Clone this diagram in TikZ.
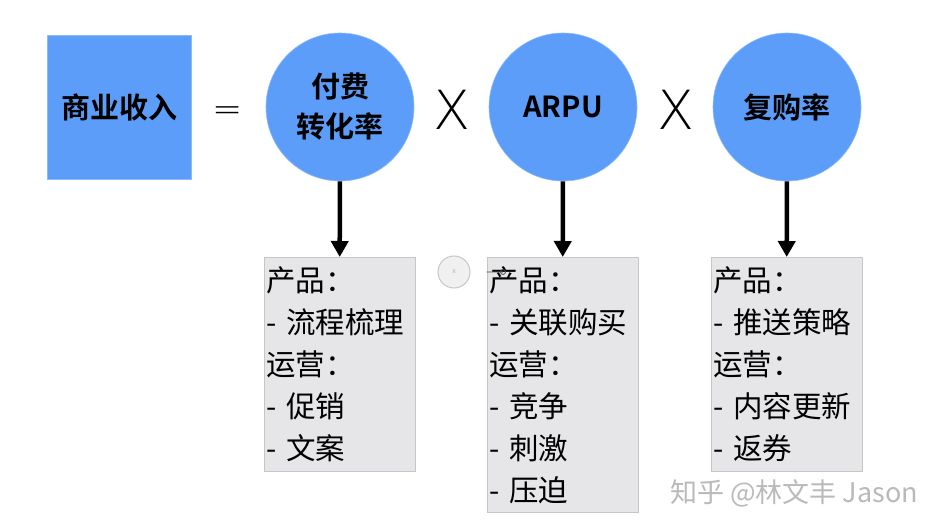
\documentclass[tikz,border=0pt]{standalone}
\usepackage{fontspec}
\setmainfont{Noto Sans CJK SC}[BoldFont={Noto Sans CJK SC Bold}]
\newfontfamily\signfont{Liberation Sans}
\newfontfamily\thinfont{DejaVu Sans ExtraLight}
\usetikzlibrary{arrows.meta}
\definecolor{kpiblue}{RGB}{91,157,248}
\definecolor{kpiedge}{RGB}{140,186,250}
\definecolor{memogray}{RGB}{230,229,232}
\tikzset{
  kpi/.style={circle, fill=kpiblue, draw=kpiedge, line width=0.6pt, minimum size=148pt, inner sep=0pt,
    align=center, font=\bfseries\fontsize{29}{40}\selectfont},
  total/.style={rectangle, fill=kpiblue, draw=kpiedge, line width=0.6pt, minimum size=144pt, inner sep=0pt,
    font=\bfseries\fontsize{29}{40}\selectfont},
  opsign/.style={inner sep=0pt, font=\thinfont\fontsize{54}{54}\selectfont},
  memo/.style={rectangle, fill=memogray, draw=gray!45, line width=0.8pt, anchor=north,
    minimum width=151pt, text width=147pt, inner xsep=2pt, inner ysep=0pt, align=left,
    font=\fontsize{29.5}{42}\selectfont},
  feeds/.style={-{Triangle[width=17pt,length=16pt]}, line width=4.5pt}
}
\begin{document}
\begin{tikzpicture}[x=1pt,y=-1pt]
  \useasboundingbox (0,0) rectangle (945,532);
  % top row: revenue = conversion x ARPU x repurchase
  \node[total] (income) at (119,107) {商业收入};
  \node[opsign, font=\thinfont\fontsize{36}{36}\selectfont] (eq) at (228,114) {=};
  \node[kpi] (conv) at (340,107) {付费\\转化率};
  \node[opsign] (times1) at (452,110) {X};
  \node[kpi] (arpu) at (563,107) {ARPU};
  \node[opsign] (times2) at (676,110) {X};
  \node[kpi] (rebuy) at (787,107) {复购率};
  % measures below each factor
  \node[memo, minimum height=214pt] (memo1) at (339.5,257) {产品：\\- 流程梳理\\运营：\\- 促销\\- 文案};
  \node[memo, minimum height=255pt] (memo2) at (562.5,257) {产品：\\- 关联购买\\运营：\\- 竞争\\- 刺激\\- 压迫};
  \node[memo, minimum height=214pt] (memo3) at (786.5,257) {产品：\\- 推送策略\\运营：\\- 内容更新\\- 返券};
  \draw[feeds] (conv) -- (memo1);
  \draw[feeds] (arpu) -- (memo2);
  \draw[feeds] (rebuy) -- (memo3);
  % stray handle next to the middle box
  \node[circle, fill=gray!12, draw=gray!45, line width=1pt, minimum size=32pt, inner sep=0pt,
    font=\signfont\fontsize{7}{7}\selectfont, text=gray!60] (knob) at (454,272) {x};
  \coordinate (pin) at (503,272);
  \draw[line width=0.8pt, black!70] (memo2.west |- pin) -- (pin) circle (2.5pt);
  % watermark
  \node[text=gray!55, font=\fontsize{27}{27}\selectfont, inner sep=0pt] (mark) at (794,493) {知乎 @林文丰 Jason};
\end{tikzpicture}
\end{document}
